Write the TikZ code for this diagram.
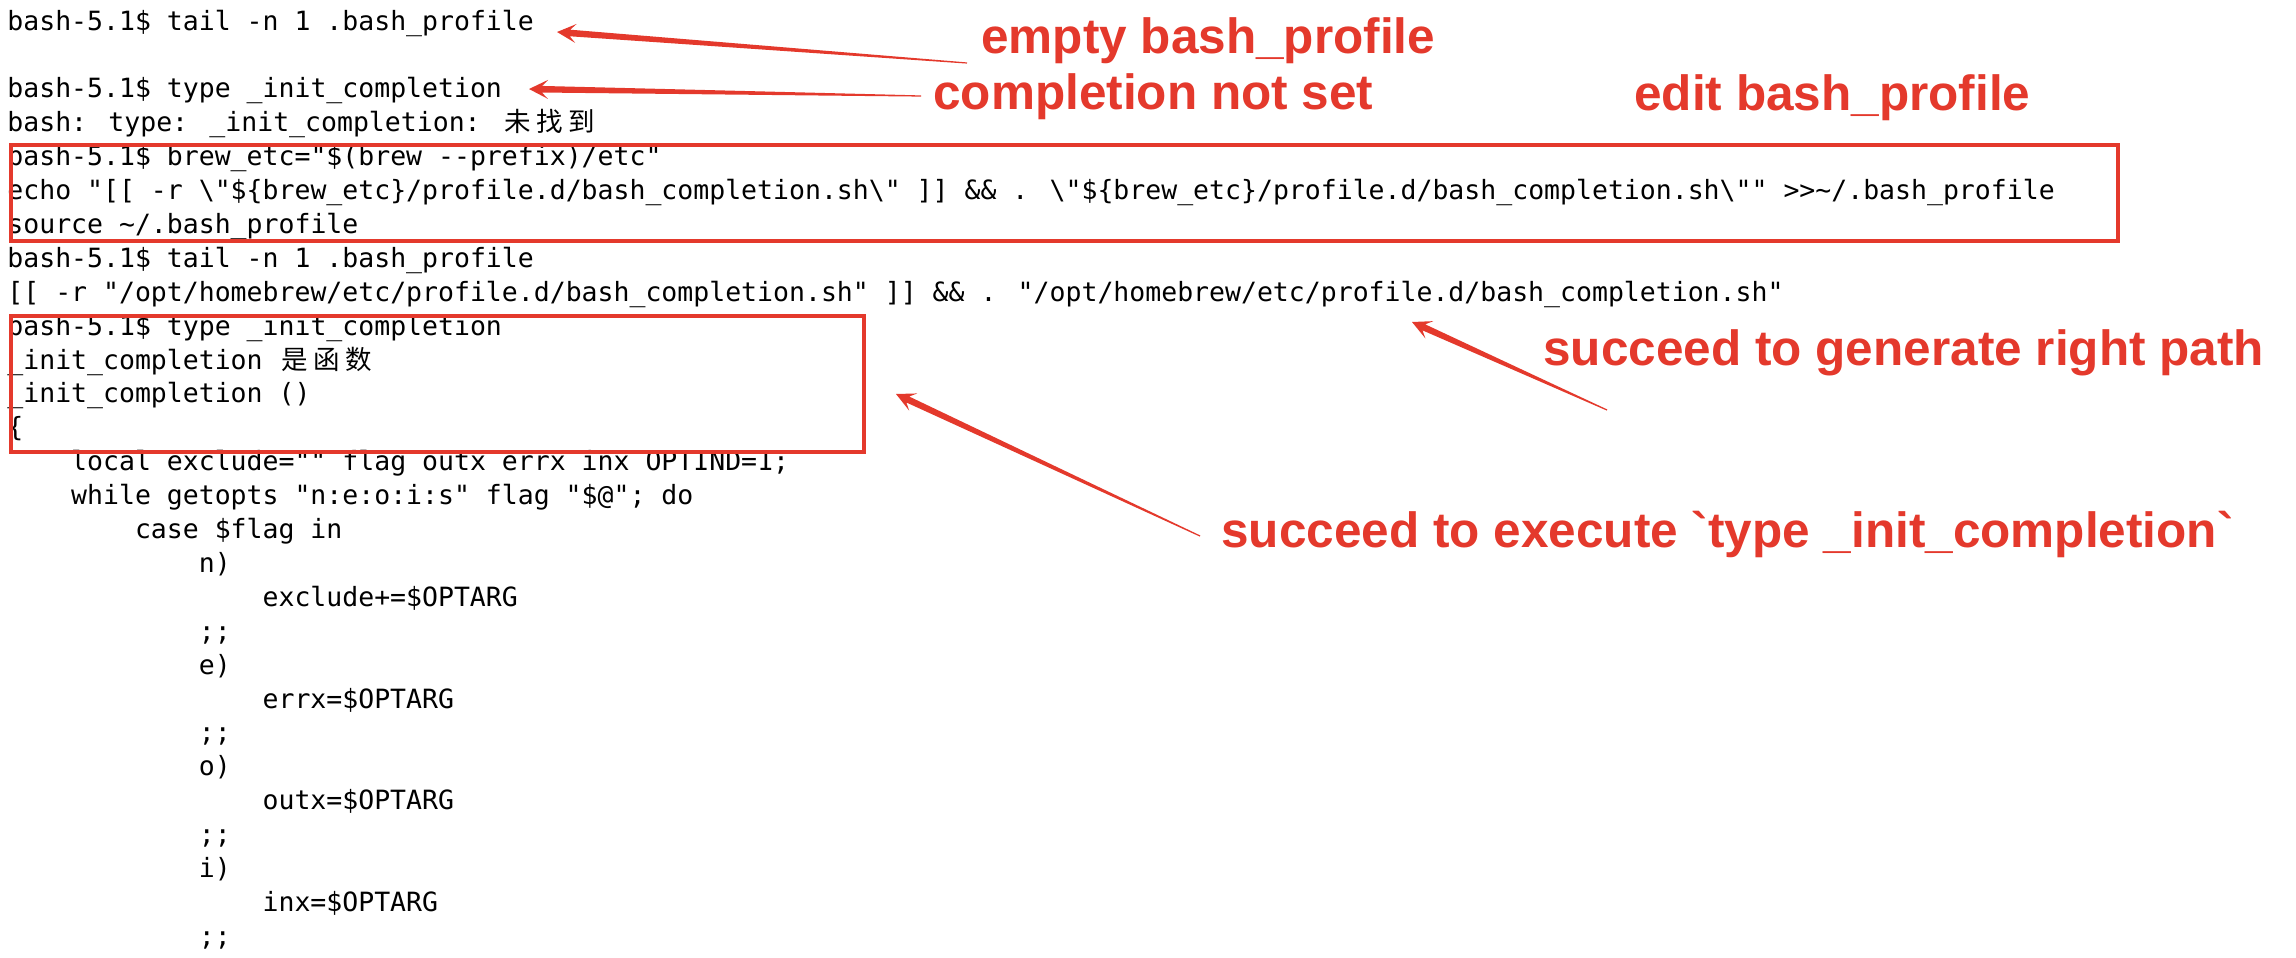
\documentclass[tikz,border=0pt]{standalone}
\usepackage{fontspec}
\newfontfamily\termfont{DejaVu Sans Mono}[Ligatures=TeXOff]
\newfontfamily\notefont{Liberation Sans}[Ligatures=TeXOff]
\newfontfamily\zhfont{Noto Sans CJK SC}
\usetikzlibrary{calc}

\definecolor{notered}{RGB}{228,57,44}

% one CJK character takes two terminal cells
\newcommand\zh[1]{\makebox[1.204em][c]{\zhfont #1}}

% tapered red pointer: thin at the tail, wide at the head
\newcommand\pointer[2]{%
  \path ($(#2)!6.5pt!(#1)$) coordinate (pn) ($(#2)!9.5pt!(#1)$) coordinate (pw);
  \fill[notered] ($(#1)!0.3pt!90:(#2)$) -- ($(pn)!1.65pt!90:(#2)$)
    -- ($(pw)!4.75pt!90:(#2)$) -- (#2) -- ($(pw)!4.75pt!-90:(#2)$)
    -- ($(pn)!1.65pt!-90:(#2)$) -- ($(#1)!0.3pt!-90:(#2)$) -- cycle;}

\tikzset{
  term/.style={anchor=base west,inner sep=0pt,font=\termfont\fontsize{13.25}{16}\selectfont},
  note/.style={anchor=base west,inner sep=0pt,text=notered,
    font=\notefont\bfseries\fontsize{24.75}{30}\selectfont},
  hibox/.style={draw=notered,line width=2pt}
}

\begin{document}
\begin{tikzpicture}[x=0.5pt,y=-0.5pt]

\useasboundingbox (0,0) rectangle (2296,958);
\fill[white] (0,0) rectangle (2296,958);

\def\termlines{1/0/{bash-5.1\$ tail -n 1 .bash\_profile},
  3/0/{bash-5.1\$ type \_init\_completion},
  4/0/{bash: type: \_init\_completion: \zh{未}\zh{找}\zh{到}},
  5/0/{bash-5.1\$ brew\_etc="\$(brew --prefix)/etc"},
  6/0/{echo "[[ -r \textbackslash"\$\{brew\_etc\}/profile.d/bash\_completion.sh\textbackslash" ]] \&\& . \textbackslash"\$\{brew\_etc\}/profile.d/bash\_completion.sh\textbackslash"" >>\textasciitilde/.bash\_profile},
  7/0/{source \textasciitilde/.bash\_profile},
  8/0/{bash-5.1\$ tail -n 1 .bash\_profile},
  9/0/{[[ -r "/opt/homebrew/etc/profile.d/bash\_completion.sh" ]] \&\& . "/opt/homebrew/etc/profile.d/bash\_completion.sh"},
  10/0/{bash-5.1\$ type \_init\_completion},
  11/0/{\_init\_completion \zh{是}\zh{函}\zh{数}},
  12/0/{\_init\_completion ()},
  13/0/{\{},
  14/4/{local exclude="" flag outx errx inx OPTIND=1;},
  15/4/{while getopts "n:e:o:i:s" flag "\$@"; do},
  16/8/{case \$flag in},
  17/12/{n)}, 18/16/{exclude+=\$OPTARG}, 19/12/{;;},
  20/12/{e)}, 21/16/{errx=\$OPTARG}, 22/12/{;;},
  23/12/{o)}, 24/16/{outx=\$OPTARG}, 25/12/{;;},
  26/12/{i)}, 27/16/{inx=\$OPTARG}, 28/12/{;;}}
\foreach \i/\ind/\txt in \termlines
  \node[term] (l\i) at ({7+\ind*15.95},{30+(\i-1)*33.9}) {\txt};

\draw[hibox] (11,145) rectangle (2118,241);
\draw[hibox] (11,316) rectangle (864,452);

\node[note] (empty) at (981,53) {empty bash\_profile};
\node[note] (notset) at (933,109) {completion not set};
\node[note] (edit) at (1634,110) {edit bash\_profile};
\node[note] (path) at (1543,365) {succeed to generate right path};
\node[note] (exec) at (1221,547) {succeed to execute `type \_init\_completion`};

\coordinate (h1) at (557,32);   \coordinate (t1) at (967,63);
\coordinate (h2) at (529,89);   \coordinate (t2) at (921,96);
\coordinate (h3) at (1412,322); \coordinate (t3) at (1607,410);
\coordinate (h4) at (896,394);  \coordinate (t4) at (1200,536);
\foreach \k in {1,...,4}
  \pointer{t\k}{h\k};

\end{tikzpicture}
\end{document}
